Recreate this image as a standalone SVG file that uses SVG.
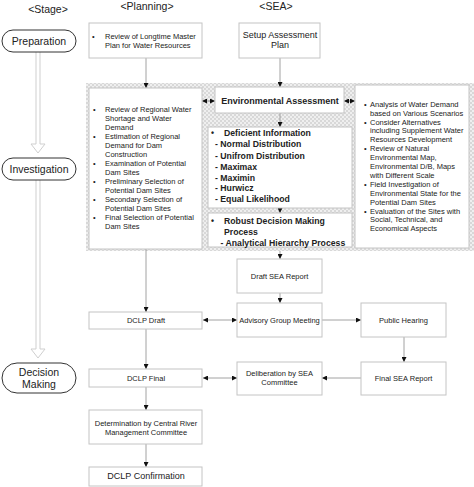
<svg xmlns="http://www.w3.org/2000/svg" width="474" height="487" viewBox="0 0 474 487">
<style>
text{font-family:"Liberation Sans",Arial,sans-serif;fill:#222}
.s{font-size:7.5px}
.m{font-size:9px}
.b{font-size:8.7px;font-weight:bold}
.h{font-size:10.5px}
.c{text-anchor:middle}
.box{fill:#fff;stroke:#c4c4c4;stroke-width:1}
.pill{fill:#fff;stroke:#333;stroke-width:1}
.ln{fill:none;stroke:#8a8a8a;stroke-width:0.8}
.one{marker-end:url(#ah)}
.two{marker-end:url(#ah);marker-start:url(#ah)}
.stg{fill:#fff;stroke:#cfcfcf;stroke-width:1}
</style>
<defs>
<pattern id="hatch" width="4" height="4" patternUnits="userSpaceOnUse">
<rect width="4" height="4" fill="#efefef"/>
<rect width="2" height="2" fill="#d8d8d8"/>
<rect x="2" y="2" width="2" height="2" fill="#d8d8d8"/>
</pattern>
<marker id="ah" markerUnits="userSpaceOnUse" markerWidth="5" markerHeight="5" refX="5" refY="2.5" orient="auto-start-reverse">
<path d="M0,0 L5,2.5 L0,5 z" fill="#111"/>
</marker>
</defs>
<rect width="474" height="487" fill="#fff"/>

<g id="headers">
<text class="h c" x="48" y="13">&lt;Stage&gt;</text>
<text class="h c" x="147" y="10">&lt;Planning&gt;</text>
<text class="h c" x="276" y="10">&lt;SEA&gt;</text>
</g>

<g id="stage-arrows">
<path class="stg" d="M36,52 V144 H31 L38,153 L45,144 H40 V52"/>
<path class="stg" d="M36,180 V349 H31 L38,358 L45,349 H40 V180"/>
</g>

<g id="hatched-area">
<rect x="86" y="83" width="388" height="168" fill="url(#hatch)"/>
</g>

<g id="connectors">
<line class="ln one" x1="146" y1="58" x2="146" y2="88"/>
<line class="ln one" x1="280" y1="58" x2="280" y2="87"/>
<line class="ln two" x1="202" y1="101" x2="215" y2="101"/>
<line class="ln two" x1="344" y1="101" x2="355" y2="101"/>
<line class="ln one" x1="280" y1="113" x2="280" y2="127"/>
<line class="ln one" x1="280" y1="208" x2="280" y2="213"/>
<line class="ln one" x1="280" y1="251" x2="280" y2="259"/>
<line class="ln one" x1="146" y1="249" x2="146" y2="312"/>
<line class="ln one" x1="280" y1="293" x2="280" y2="303"/>
<line class="ln two" x1="203" y1="320" x2="237" y2="320"/>
<line class="ln one" x1="322" y1="320" x2="361" y2="320"/>
<line class="ln one" x1="404" y1="337" x2="404" y2="362"/>
<line class="ln one" x1="361" y1="378" x2="322" y2="378"/>
<line class="ln two" x1="203" y1="378" x2="237" y2="378"/>
<line class="ln one" x1="146" y1="329" x2="146" y2="369"/>
<line class="ln one" x1="146" y1="387" x2="146" y2="410"/>
<line class="ln one" x1="146" y1="444" x2="146" y2="467"/>
</g>

<g id="preparation">
<rect class="pill" x="2" y="30" width="74" height="22" rx="11"/>
<text class="h c" x="39" y="45">Preparation</text>
</g>
<g id="investigation">
<rect class="pill" x="2" y="158" width="74" height="22" rx="11"/>
<text class="h c" x="39" y="172.5">Investigation</text>
</g>
<g id="decision-making">
<rect class="pill" x="2" y="363" width="74" height="30" rx="15"/>
<text class="h c" x="39" y="375.5">Decision</text>
<text class="h c" x="39" y="388">Making</text>
</g>

<g id="review-master-plan">
<rect class="box" x="89" y="23" width="113" height="35"/>
<text class="s" x="92" y="38.5">•</text>
<text class="s" x="105" y="38.5">Review of Longtime Master</text>
<text class="s" x="105" y="47.5">Plan for Water Resources</text>
</g>

<g id="setup-assessment-plan">
<rect class="box" x="239" y="23" width="81" height="35"/>
<text class="m c" x="280" y="38">Setup Assessment</text>
<text class="m c" x="280" y="48">Plan</text>
</g>

<g id="planning-investigation">
<rect class="box" x="89" y="88" width="113" height="161"/>
<text class="s">
<tspan x="93" y="111.7">•</tspan><tspan x="105" y="111.7">Review of Regional Water</tspan>
<tspan x="105" y="120.7">Shortage and Water</tspan>
<tspan x="105" y="129.7">Demand</tspan>
<tspan x="93" y="138.7">•</tspan><tspan x="105" y="138.7">Estimation of Regional</tspan>
<tspan x="105" y="147.7">Demand for Dam</tspan>
<tspan x="105" y="156.7">Construction</tspan>
<tspan x="93" y="165.7">•</tspan><tspan x="105" y="165.7">Examination of Potential</tspan>
<tspan x="105" y="174.7">Dam Sites</tspan>
<tspan x="93" y="183.7">•</tspan><tspan x="105" y="183.7">Preliminary Selection of</tspan>
<tspan x="105" y="192.7">Potential Dam Sites</tspan>
<tspan x="93" y="201.7">•</tspan><tspan x="105" y="201.7">Secondary Selection of</tspan>
<tspan x="105" y="210.7">Potential Dam Sites</tspan>
<tspan x="93" y="219.7">•</tspan><tspan x="105" y="219.7">Final Selection of Potential</tspan>
<tspan x="105" y="228.7">Dam Sites</tspan>
</text>
</g>

<g id="environmental-assessment">
<rect class="box" x="215" y="87" width="129" height="26"/>
<text class="m c" x="280" y="104.3" font-weight="bold">Environmental Assessment</text>
</g>

<g id="deficient-information">
<rect class="box" x="208" y="127" width="144" height="81"/>
<text class="b">
<tspan x="211" y="136.4">•</tspan><tspan x="224" y="136.4">Deficient Information</tspan>
<tspan x="215" y="147.3">- Normal Distribution</tspan>
<tspan x="215" y="158.6">- Unifrom Distribution</tspan>
<tspan x="215" y="169.6">- Maximax</tspan>
<tspan x="215" y="180.6">- Maximin</tspan>
<tspan x="215" y="191.3">- Hurwicz</tspan>
<tspan x="215" y="201.7">- Equal Likelihood</tspan>
</text>
</g>

<g id="robust-decision">
<rect class="box" x="208" y="213" width="144" height="34"/>
<text class="b">
<tspan x="211" y="223.8">•</tspan><tspan x="224" y="223.8">Robust Decision Making</tspan>
<tspan x="224" y="234.8">Process</tspan>
<tspan x="220.5" y="245.5">- Analytical Hierarchy Process</tspan>
</text>
</g>

<g id="sea-investigation">
<rect class="box" x="355" y="85" width="114" height="163"/>
<text class="s">
<tspan x="364" y="106.7">•</tspan><tspan x="370" y="106.7">Analysis of Water Demand</tspan>
<tspan x="370" y="115.6">based on Various Scenarios</tspan>
<tspan x="364" y="124.5">•</tspan><tspan x="370" y="124.5">Consider Alternatives</tspan>
<tspan x="370" y="133.4">including Supplement Water</tspan>
<tspan x="370" y="142.3">Resources Development</tspan>
<tspan x="364" y="151.2">•</tspan><tspan x="370" y="151.2">Review of Natural</tspan>
<tspan x="370" y="160.1">Environmental Map,</tspan>
<tspan x="370" y="169">Environmental D/B, Maps</tspan>
<tspan x="370" y="177.9">with Different Scale</tspan>
<tspan x="364" y="186.8">•</tspan><tspan x="370" y="186.8">Field Investigation of</tspan>
<tspan x="370" y="195.7">Environmental State for the</tspan>
<tspan x="370" y="204.6">Potential Dam Sites</tspan>
<tspan x="364" y="213.5">•</tspan><tspan x="370" y="213.5">Evaluation of the Sites with</tspan>
<tspan x="370" y="222.4">Social, Technical, and</tspan>
<tspan x="370" y="231.3">Economical Aspects</tspan>
</text>
</g>

<g id="draft-sea-report">
<rect class="box" x="237" y="259" width="85" height="34"/>
<text class="s c" x="279.5" y="278.7">Draft SEA Report</text>
</g>
<g id="advisory-group-meeting">
<rect class="box" x="237" y="303" width="85" height="34"/>
<text class="s c" x="279.5" y="322.7">Advisory Group Meeting</text>
</g>
<g id="public-hearing">
<rect class="box" x="361" y="303" width="85" height="34"/>
<text class="s c" x="403.5" y="322.7">Public Hearing</text>
</g>
<g id="final-sea-report">
<rect class="box" x="361" y="362" width="85" height="33"/>
<text class="s c" x="403.5" y="380.7">Final SEA Report</text>
</g>
<g id="deliberation">
<rect class="box" x="237" y="362" width="85" height="33"/>
<text class="s c" x="279.5" y="376">Deliberation by SEA</text>
<text class="s c" x="279.5" y="385">Committee</text>
</g>

<g id="dclp-draft">
<rect class="box" x="89" y="312" width="113" height="17"/>
<text class="s c" x="146" y="323.2">DCLP Draft</text>
</g>
<g id="dclp-final">
<rect class="box" x="89" y="369" width="113" height="18"/>
<text class="s c" x="146" y="380.7">DCLP Final</text>
</g>
<g id="determination">
<rect class="box" x="89" y="410" width="113" height="34"/>
<text class="s c" x="146" y="426">Determination by Central River</text>
<text class="s c" x="146" y="435">Management Committee</text>
</g>
<g id="dclp-confirmation">
<rect class="box" x="89" y="467" width="113" height="19"/>
<text class="m c" x="146" y="479.3">DCLP Confirmation</text>
</g>
</svg>
